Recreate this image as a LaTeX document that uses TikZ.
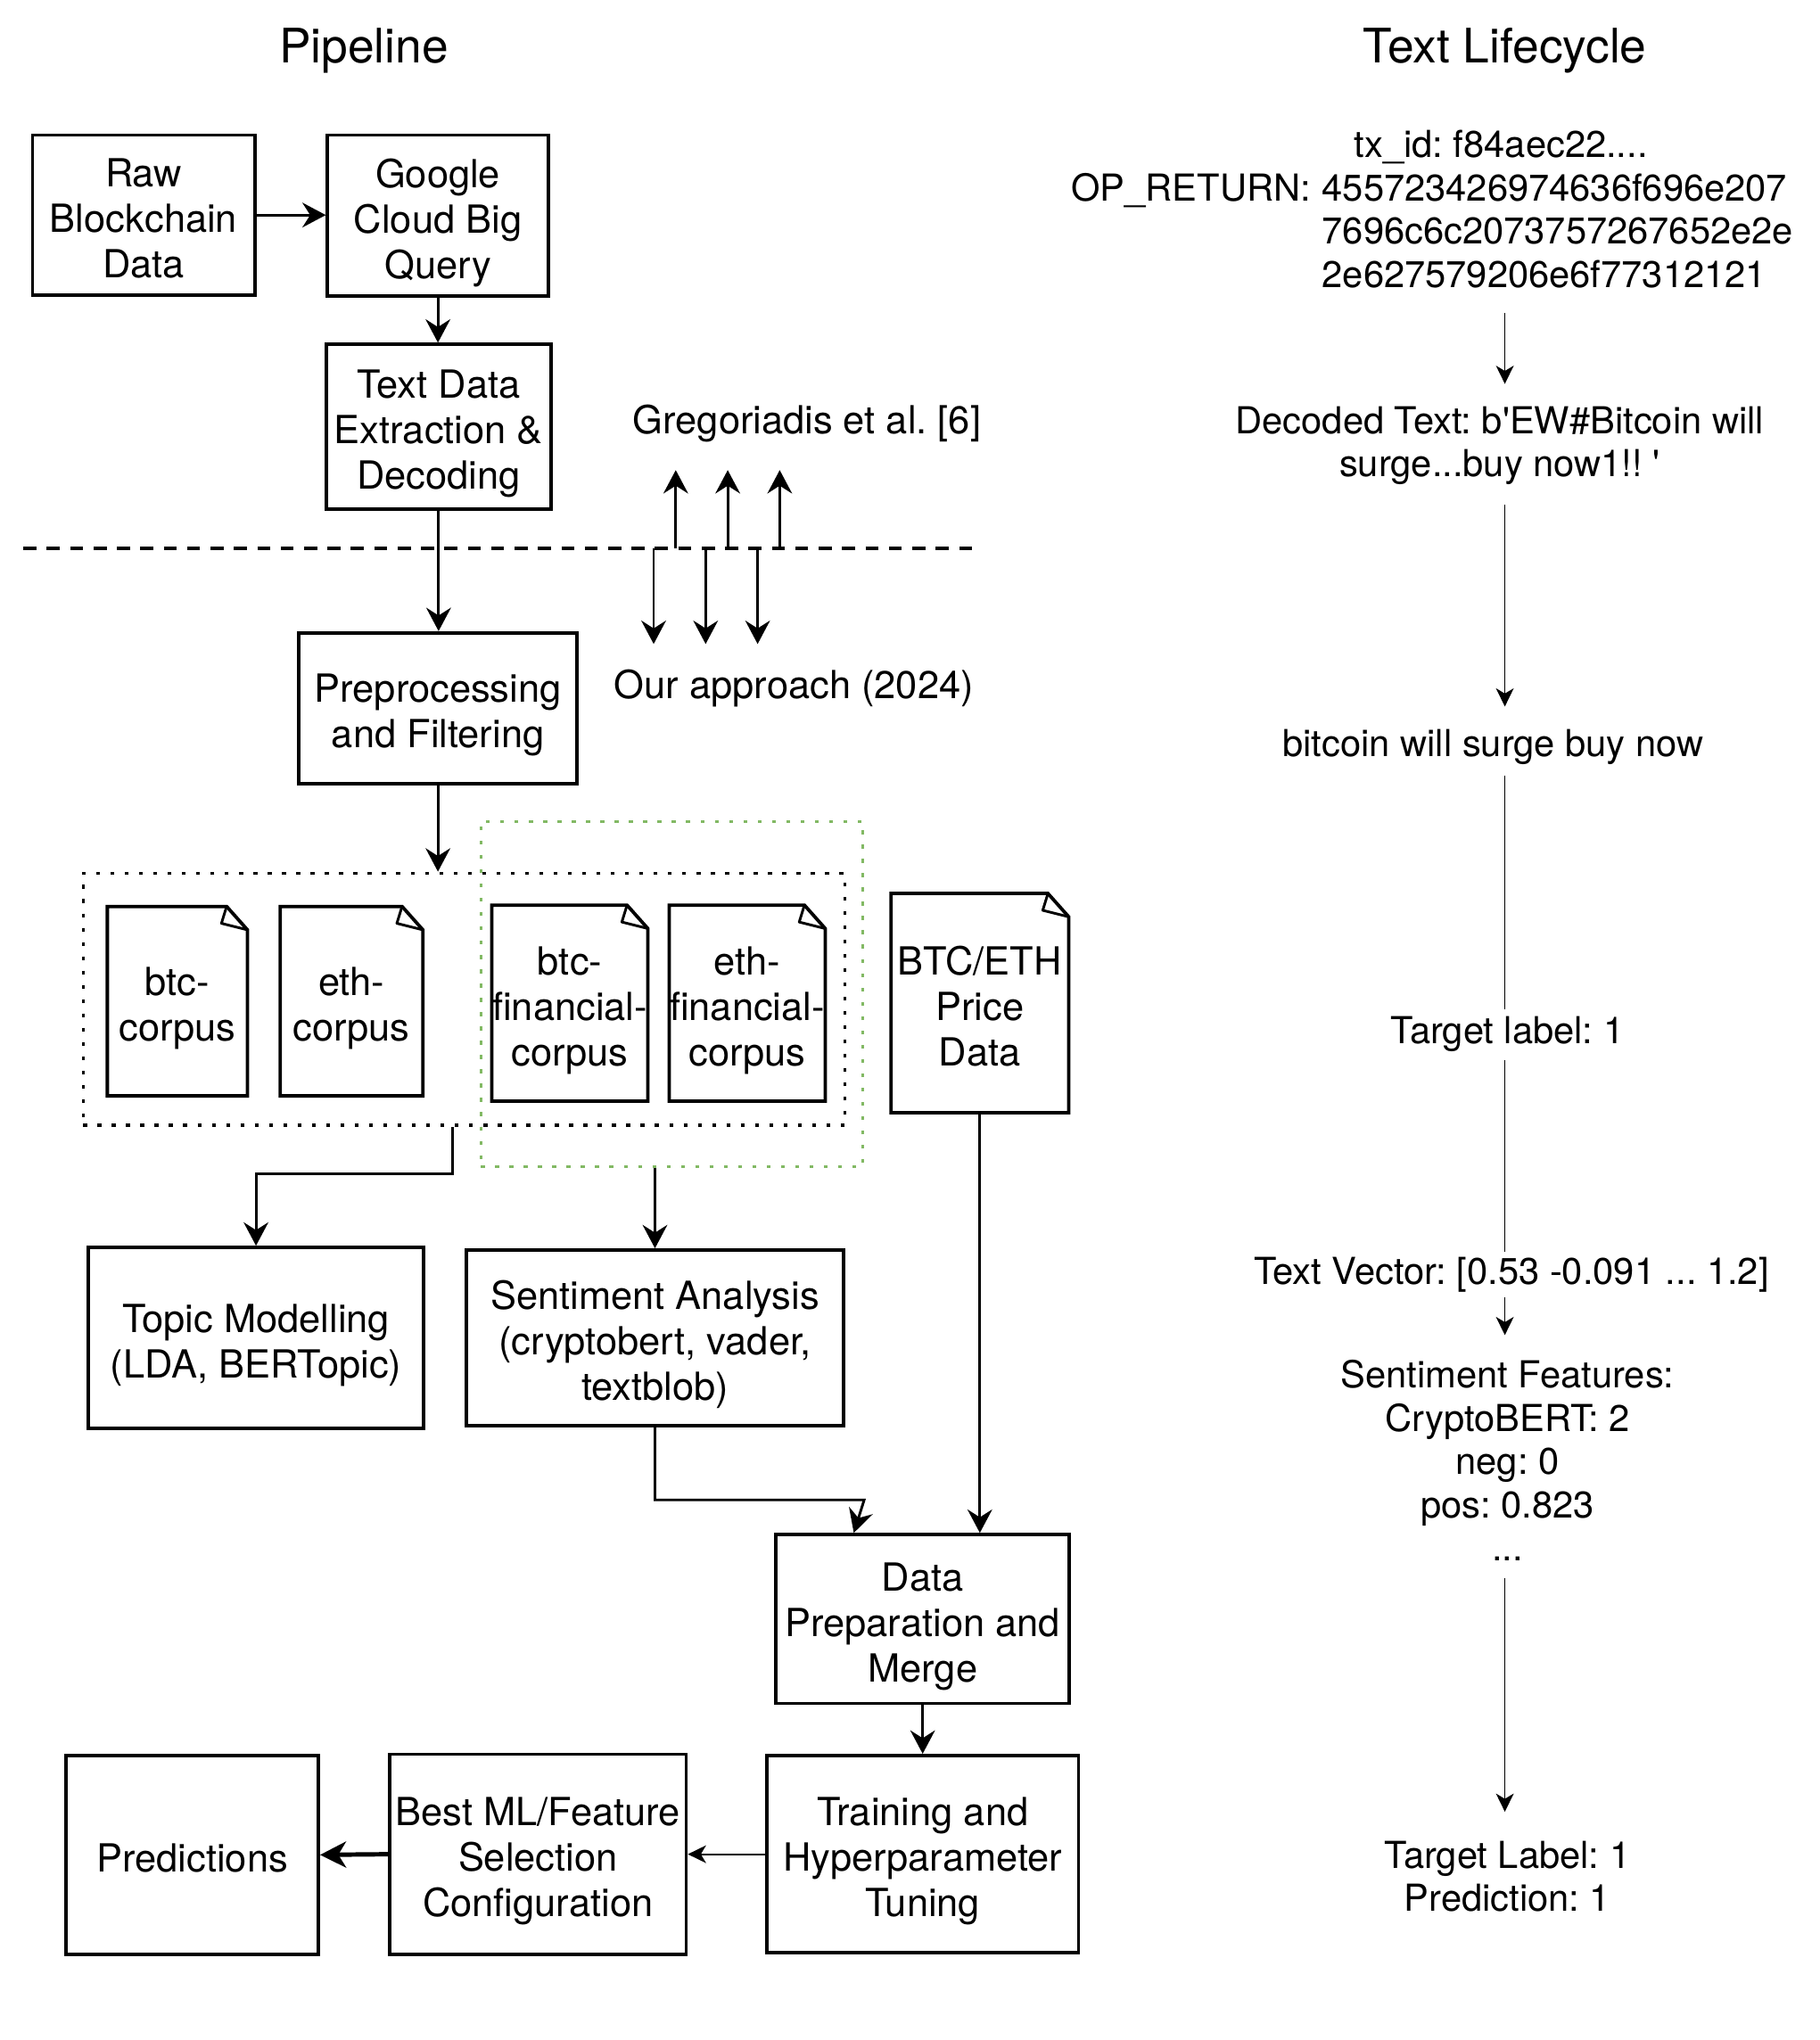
\documentclass[tikz,border=0pt]{standalone}
\usepackage{fontspec}
\setmainfont{TeX Gyre Heros}
\newfontfamily\lcfam{TeX Gyre Heros}
\usetikzlibrary{arrows.meta}
\frenchspacing
\definecolor{dotgreen}{RGB}{130,185,100}
\newcommand{\boxfont}{\fontsize{14.9pt}{17.5pt}\selectfont}
\newcommand{\lcfont}{\lcfam\fontsize{14.3pt}{16.6pt}\selectfont}
\newcommand{\titlefont}{\fontsize{18.3pt}{22pt}\selectfont}
\newcommand{\tsu}{\rule{0pt}{17.2pt}}
\newcommand{\bsu}{\rule[-4pt]{0pt}{4pt}}
\newcommand{\drawdoc}[1]{%
  \draw[docline] (#1.north west) -- ([xshift=-8pt]#1.north east) -- ([yshift=-9pt]#1.north east) -- (#1.south east) -- (#1.south west) -- cycle;
  \draw[foldline] ([xshift=-8pt]#1.north east) -- ([xshift=-10pt,yshift=-6.5pt]#1.north east) -- ([yshift=-9pt]#1.north east);}
\begin{document}
\frenchspacing
\begin{tikzpicture}[x=0.5pt,y=-0.5pt,
  box/.style={draw, line width=1.3pt, align=center, inner sep=0pt, font=\boxfont},
  doc/.style={align=center, inner sep=0pt, font=\boxfont},
  docline/.style={line width=1.3pt, line join=miter},
  foldline/.style={line width=1pt, line join=round},
  conn/.style={line width=1pt, -{Stealth[length=9pt,width=9.5pt,inset=3pt]}},
  thinconn/.style={line width=0.6pt, -{Stealth[length=7pt,width=6.8pt,inset=2pt]}},
  thickconn/.style={line width=1.7pt, -{Stealth[length=10pt,width=10pt,inset=3pt]}},
  lc/.style={align=center, inner sep=0pt, font=\lcfont},
  lbl/.style={inner sep=0pt, font=\boxfont},
  title/.style={font=\titlefont, inner sep=0pt},
  blackdot/.style={draw, line width=1.2pt, dash pattern=on 1.5pt off 4pt, inner sep=0pt},
  greendot/.style={draw=dotgreen, line width=1pt, dash pattern=on 1.5pt off 4pt, inner sep=0pt},
  dashline/.style={line width=1.1pt, dash pattern=on 5pt off 4pt},
]
\useasboundingbox (0,0) rectangle (1400,1570);

% titles
\node[title] (tpipe) at (280,39) {Pipeline};
\node[title] (tlife) at (1158,39) {Text Lifecycle};

% pipeline boxes
\node[box, minimum width=85.5pt, minimum height=61.5pt] (raw) at (110.5,165.5) {\tsu Raw\\Blockchain\\Data\bsu};
\node[box, minimum width=85pt, minimum height=62pt] (gcb) at (337,166) {\tsu Google\\Cloud Big\\Query\bsu};
\node[box, minimum width=86.5pt, minimum height=63.5pt] (ext) at (337.5,328.5) {\tsu Text Data\\Extraction \&\\Decoding\bsu};
\node[box, minimum width=107pt, minimum height=58pt] (prep) at (337,545) {\tsu Preprocessing\\and Filtering\bsu};
\node[box, minimum width=129pt, minimum height=69.5pt] (topic) at (197,1029.5) {\tsu Topic Modelling\\(LDA, BERTopic)\bsu};
\node[box, minimum width=145pt, minimum height=67.5pt] (senti) at (504,1029.5) {\tsu Sentiment Analysis\\(cryptobert, vader,\\textblob)\bsu};
\node[box, minimum width=113pt, minimum height=65pt] (merge) at (710,1246) {\tsu Data\\Preparation and\\Merge\bsu};
\node[box, minimum width=120pt, minimum height=76pt] (train) at (710,1427) {\tsu Training and\\Hyperparameter\\Tuning\bsu};
\node[box, minimum width=114pt, minimum height=77pt] (best) at (414,1427) {\tsu Best ML/Feature\\Selection\\Configuration\bsu};
\node[box, minimum width=97pt, minimum height=76.5pt] (pred) at (148,1427.5) {\tsu Predictions\bsu};

% dotted groups
\node[blackdot, minimum width=293pt, minimum height=97pt] (blk) at (357,769) {};
\node[greendot, minimum width=147pt, minimum height=133pt] (grn) at (517,765) {};

% documents
\node[doc, minimum width=53.5pt, minimum height=72.5pt] (dbtc) at (136.5,770.5) {\tsu btc-\\corpus\bsu};
\node[doc, minimum width=54.5pt, minimum height=72.5pt] (deth) at (270.5,770.5) {\tsu eth-\\corpus\bsu};
\node[doc, minimum width=58.5pt, minimum height=75pt] (dbtcf) at (438.5,772) {\tsu btc-\\financial-\\corpus\bsu};
\node[doc, minimum width=58pt, minimum height=75pt] (dethf) at (575,772) {\tsu eth-\\financial-\\corpus\bsu};
\node[doc, minimum width=68pt, minimum height=84pt] (price) at (754,772) {\tsu BTC/ETH\\Price\\Data\bsu};
\foreach \d in {dbtc,deth,dbtcf,dethf,price} {\drawdoc{\d}}

% separator and comparison arrows
\coordinate (dl1) at (18,422);
\coordinate (dl2) at (752,422);
\draw[dashline] (dl1) -- (dl2);
\node[lbl] (greg) at (621,326) {Gregoriadis et al. [6]};
\node[lbl] (ours) at (611,530) {Our approach (2024)};
\coordinate (ux1) at (520,0);
\coordinate (ux2) at (560,0);
\coordinate (ux3) at (600,0);
\coordinate (dx1) at (503,0);
\coordinate (dx2) at (543,0);
\coordinate (dx3) at (583,0);
\foreach \u in {ux1,ux2,ux3} {\draw[conn, shorten >=10.5pt] (dl1 -| \u) -- (greg.south -| \u);}
\foreach \d in {dx1,dx2,dx3} {\draw[conn, shorten >=9.8pt] (dl1 -| \d) -- (ours.north -| \d);}

% pipeline connectors
\draw[conn] (raw.east) -- (raw.east -| gcb.west);
\draw[conn] (gcb.south) -- (gcb.south |- ext.north);
\draw[conn] (ext.south) -- (ext.south |- prep.north);
\draw[conn] (prep.south) -- (prep.south |- blk.north);
\draw[conn] ([xshift=-4.5pt]blk.south) -- ++(0,36) -| (topic.north);
\draw[conn] (senti.north |- grn.south) -- (senti.north);
\draw[conn] (senti.south) -- ++(0,56) -- ++(161,0) -- ([xshift=-26.5pt]merge.north);
\draw[conn] (price.south) -- (price.south |- merge.north);
\draw[conn] (merge.south) -- (train.north);
\draw[thinconn] (train.west) -- (best.east);
\draw[thickconn] (best.west) -- (pred.east);

% text lifecycle
\coordinate (lcx) at (1158,0);
\node[lc, anchor=base] (txid) at (1155,121) {tx\_id: f84aec22....};
\node[lc, anchor=base east] (opr) at (1009,155) {OP\_RETURN:};
\node[lc, anchor=base west] (hex1) at (1017,155) {455723426974636f696e207};
\node[lc, anchor=base west] (hex2) at (1017,188) {7696c6c2073757267652e2e};
\node[lc, anchor=base west] (hex3) at (1017,221) {2e627579206e6f77312121};
\node[lc] (dec) at (1154,343) {Decoded Text: b'EW\#Bitcoin will\\surge...buy now1!! '};
\node[lc, anchor=base] (bit) at (1149,582) {bitcoin will surge buy now};
\node[lc] (sentf) at (1160,1124) {Sentiment Features:\\CryptoBERT: 2\\neg: 0\\pos: 0.823\\...};
\node[lc] (tgt) at (1160,1444) {Target Label: 1\\Prediction: 1};

\draw[thinconn, shorten <=9.5pt, shorten >=8.5pt] (hex3.south -| lcx) -- (dec.north -| lcx);
\draw[thinconn, shorten <=7.5pt, shorten >=8.5pt] (dec.south -| lcx) -- (bit.north -| lcx);
\draw[thinconn, shorten <=4pt, shorten >=9.5pt] (bit.south -| lcx) -- (sentf.north -| lcx);
\draw[thinconn, shorten <=6.5pt, shorten >=11pt] (sentf.south -| lcx) -- (tgt.north -| lcx);
\node[lc, fill=white, inner sep=3pt] (tl) at (1160,796) {Target label: 1};
\node[lc, fill=white, inner ysep=2pt, inner xsep=0pt] (tv) at (1163,981) {Text Vector: [0.53 -0.091 ... 1.2]};
\end{tikzpicture}
\end{document}
